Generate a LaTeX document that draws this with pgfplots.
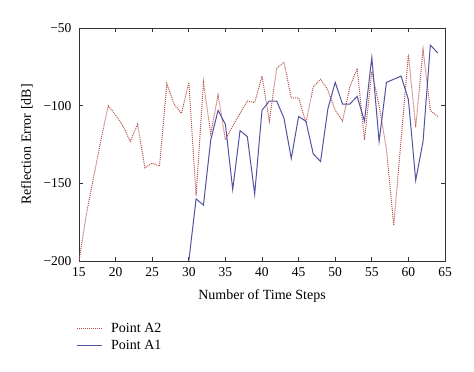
\documentclass[border=0pt]{standalone}
\usepackage{pgfplots}
\pgfplotsset{compat=1.18}
\usepackage{fontspec}
\setmainfont{Liberation Serif}
\definecolor{aone}{HTML}{5252A2}
\definecolor{atwo}{HTML}{B8524C}
\begin{document}
\begin{tikzpicture}
\begin{axis}[
  width=366pt, height=233pt, scale only axis,
  xmin=15, xmax=65, ymin=-200, ymax=-50,
  xtick={15,20,...,65}, ytick={-200,-150,-100,-50},
  yticklabels={−200,−150,−100,−50},
  tick align=inside, major tick length=4pt,
  axis line style={draw=black!80, line width=0.9pt},
  every tick/.style={black!80, line width=0.8pt},
  /pgf/number format/assume math mode=true,
  ticklabel style={font=\fontsize{13.5}{15}\selectfont},
  xticklabel style={yshift=-3pt},
  yticklabel style={xshift=-4pt},
  xlabel={Number of Time Steps}, ylabel={Reflection Error [dB]},
  label style={font=\fontsize{14}{16}\selectfont},
  xlabel style={yshift=-6pt},
  ylabel style={yshift=4pt},
  legend style={draw=none, fill=none, at={(0,-0.25)}, anchor=north west,
    font=\fontsize{14}{16}\selectfont, row sep=2pt, xshift=-6pt,
    nodes={inner xsep=9pt}},
  legend cell align=left,
  legend image code/.code={\draw[#1] (0pt,0pt) -- (25pt,0pt);},
]
\addplot[atwo, densely dotted, line width=1pt] coordinates {
(15,-200)(16,-170)(17,-146)(18,-122)(19,-100)(20,-106)(21,-113)(22,-123)(23,-112)(24,-140)
(25,-137)(26,-139)(27,-86)(28,-99)(29,-105)(30,-85)(31,-158)(32,-85)(33,-118)(34,-93)
(35,-122)(36,-113)(37,-105)(38,-97)(39,-98)(40,-81)(41,-110)(42,-76)(43,-72)(44,-95)
(45,-95)(46,-111)(47,-88)(48,-83)(49,-90)(50,-103)(51,-110)(52,-88)(53,-76)(54,-122)
(55,-78)(56,-100)(57,-128)(58,-177)(59,-122)(60,-67)(61,-114)(62,-64)(63,-103)(64,-107)
};
\addlegendentry{Point A2}
\addplot[aone, line width=1pt] coordinates {
(30,-200)(31,-160)(32,-164)(33,-122)(34,-103)(35,-112)(36,-154)(37,-116)(38,-120)(39,-157)
(40,-103)(41,-97)(42,-97)(43,-108)(44,-134)(45,-107)(46,-110)(47,-131)(48,-136)(49,-102)
(50,-85)(51,-99)(52,-99)(53,-94)(54,-110)(55,-69)(56,-123)(57,-85)(58,-83)(59,-81)
(60,-96)(61,-148)(62,-123)(63,-61)(64,-66)
};
\addlegendentry{Point A1}
\end{axis}
\pgfresetboundingbox
\path[use as bounding box] ([shift={(-79pt,-111pt)}]current axis.south west) rectangle ([shift={(29pt,28pt)}]current axis.north east);
\end{tikzpicture}
\end{document}
